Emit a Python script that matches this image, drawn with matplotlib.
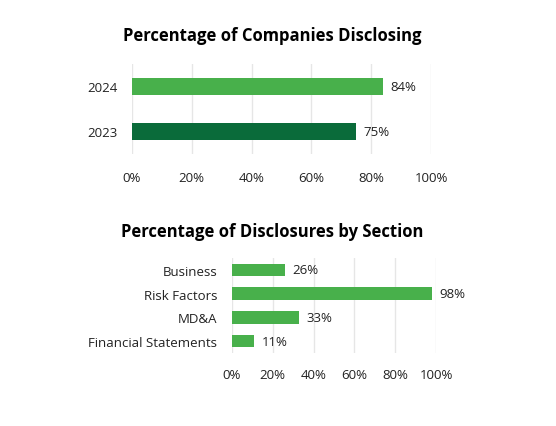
import matplotlib.pyplot as plt
from matplotlib.ticker import PercentFormatter

plt.rcParams['font.family'] = ['Open Sans', 'DejaVu Sans']

# Data
years = ['2023', '2024']
year_pct = [75, 84]
year_colors = ['#0a6b3a', '#48b04b']

sections = ['Financial Statements', 'MD&A', 'Risk Factors', 'Business']
section_pct = [11, 33, 98, 26]
section_color = '#48b04b'

ticks = [0, 20, 40, 60, 80, 100]

fig = plt.figure(figsize=(5.56, 4.27), dpi=100)

W, H = 556, 427


def make_axes(left, right, top, bottom):
    return fig.add_axes([left / W, 1 - bottom / H, (right - left) / W, (bottom - top) / H])


def style(ax):
    for s in ax.spines.values():
        s.set_visible(False)
    ax.set_xlim(0, 100)
    ax.set_xticks(ticks)
    ax.xaxis.set_major_formatter(PercentFormatter(decimals=0))
    ax.grid(axis='x', color='#e6e6e6', linewidth=1)
    ax.set_axisbelow(True)
    ax.tick_params(length=0, labelsize=9.5, colors='#222222')
    ax.tick_params(axis='y', pad=10.5)


# Top chart
ax1 = make_axes(132, 431, 65, 155)
ax1.barh(years, year_pct, height=0.36, color=year_colors)
ax1.set_ylim(-0.5, 1.5)
style(ax1)
ax1.tick_params(axis='x', pad=12)
for i, v in enumerate(year_pct):
    ax1.text(v + 2.3, i, f'{v}%', va='center', ha='left', fontsize=9.5, color='#222222')
fig.text(272 / W, 1 - 36 / H, 'Percentage of Companies Disclosing',
         ha='center', va='center', fontsize=12, fontweight='bold')

# Bottom chart
ax2 = make_axes(232, 436, 259, 354)
ax2.barh(sections, section_pct, height=0.52, color=section_color)
ax2.set_ylim(-0.5, 3.5)
style(ax2)
ax2.tick_params(axis='x', pad=11)
for i, v in enumerate(section_pct):
    ax2.text(v + 3.5, i, f'{v}%', va='center', ha='left', fontsize=9.5, color='#222222')
fig.text(272 / W, 1 - 232 / H, 'Percentage of Disclosures by Section',
         ha='center', va='center', fontsize=12, fontweight='bold')

fig.savefig('out.png', dpi=100, facecolor='white')
